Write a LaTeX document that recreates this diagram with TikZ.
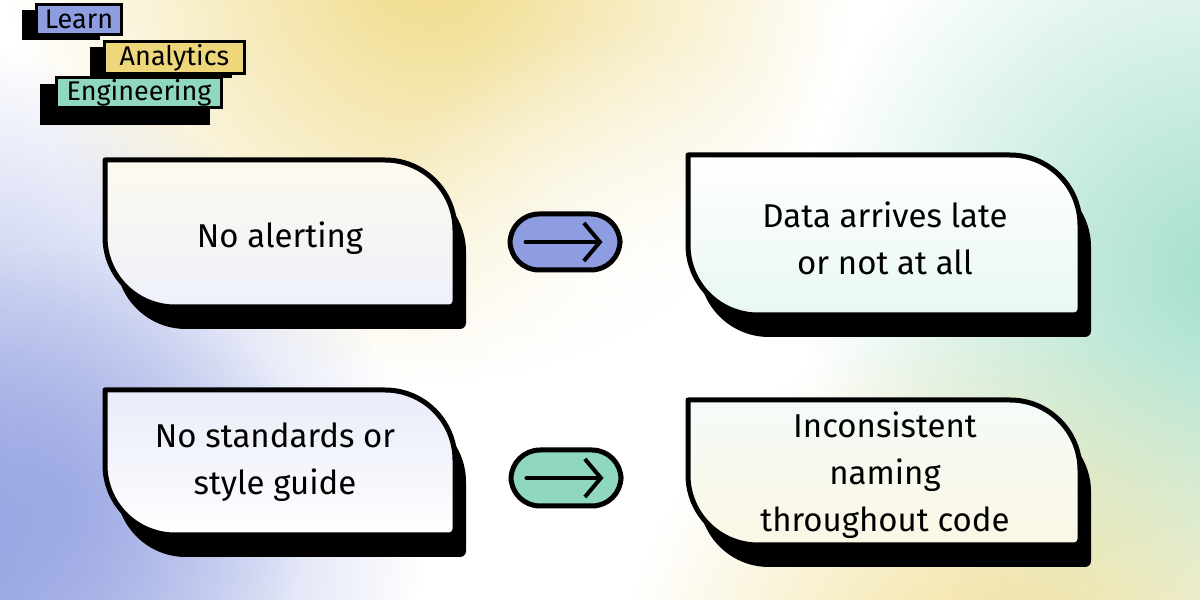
\documentclass[tikz,border=0pt]{standalone}
\usepackage{fontspec}
\setmainfont{Fira Sans}
\usetikzlibrary{fadings,arrows.meta}
\definecolor{pur}{HTML}{8E9DE0}
\definecolor{yel}{HTML}{EED77A}
\definecolor{tea}{HTML}{8FD8BE}
\tikzfading[name=soft, inner color=transparent!0, outer color=transparent!100]
\tikzset{
  txt/.style={font=\fontsize{33}{47}\selectfont, align=center, text=black},
  logo/.style={draw=black, line width=3pt, inner sep=0pt, anchor=north west},
  ltxt/.style={font=\fontsize{27}{27}\selectfont\mdseries},
  pill/.style={draw=black, line width=5pt, rounded corners=29pt, minimum width=110pt, minimum height=56pt},
  arr/.style={line width=4pt, line cap=round, -{Straight Barb[length=16pt,width=38pt,line width=4pt]}},
  blob/.style={path fading=soft}
}
\newcommand\bshape[5]{(#1,#2) -- ({#3-#5},#2) arc[start angle=90,end angle=0,radius=#5] -- (#3,{#4+6}) arc[start angle=0,end angle=-90,radius=6] -- ({#1+#5},#4) arc[start angle=270,end angle=180,radius=#5] -- cycle}
\begin{document}
\begin{tikzpicture}[x=1pt,y=1pt]
\useasboundingbox (0,0) rectangle (1200,600);
\fill[white] (0,0) rectangle (1200,600);
\fill[yel,blob,opacity=0.9] (430,640) circle (420);
\fill[pur,blob] (-100,40) circle (520);
\fill[pur,blob,opacity=0.6] (60,100) circle (250);
\fill[tea,blob,opacity=0.8] (1220,330) circle (420);
\fill[yel,blob,opacity=0.8] (1000,-100) circle (380);
\fill[white,blob,opacity=0.8] (620,320) circle (260);
% logo
\fill[black] (22,560) rectangle (100,590);
\fill[black] (90,522) rectangle (232,553);
\fill[black] (40,475) rectangle (210,516);
\node[logo, fill=pur, minimum width=85pt, minimum height=30pt] (l1) at (35,597) {};
\node[ltxt] (t1) at (l1.center) {Learn};
\node[logo, fill=yel, minimum width=140pt, minimum height=32pt] (l2) at (103,560) {};
\node[ltxt] (t2) at (l2.center) {Analytics};
\node[logo, fill=tea, minimum width=165pt, minimum height=30pt] (l3) at (55,524) {};
\node[ltxt] (t3) at (l3.center) {Engineering};
% boxes
\foreach \a/\b/\c/\d/\tc/\bc in {105/440/455/293/yel!12/pur!15, 688/445/1080/285/white/tea!20, 105/210/455/65/pur!20/white, 688/200/1080/55/tea!10/yel!20}{
  \fill[black,shift={(11,-22)}] \bshape{\a}{\b}{\c}{\d}{70};
  \shade[top color=\tc, bottom color=\bc] \bshape{\a}{\b}{\c}{\d}{70};
  \draw[line width=5pt, line join=round] \bshape{\a}{\b}{\c}{\d}{70};
}
\node[txt] (b1) at (280,362) {No alerting};
\node[txt] (b2) at (885,362) {Data arrives late\\or not at all};
\node[txt] (b3) at (275,138) {No standards or\\style guide};
\node[txt] (b4) at (885,125) {Inconsistent\\naming\\throughout code};
\node[pill, fill=pur] (p1) at (565,358) {};
\node[pill, fill=tea] (p2) at (566,122) {};
\draw[arr] ([xshift=18pt]p1.west) -- ([xshift=-20pt]p1.east);
\draw[arr] ([xshift=18pt]p2.west) -- ([xshift=-20pt]p2.east);
\end{tikzpicture}
\end{document}
